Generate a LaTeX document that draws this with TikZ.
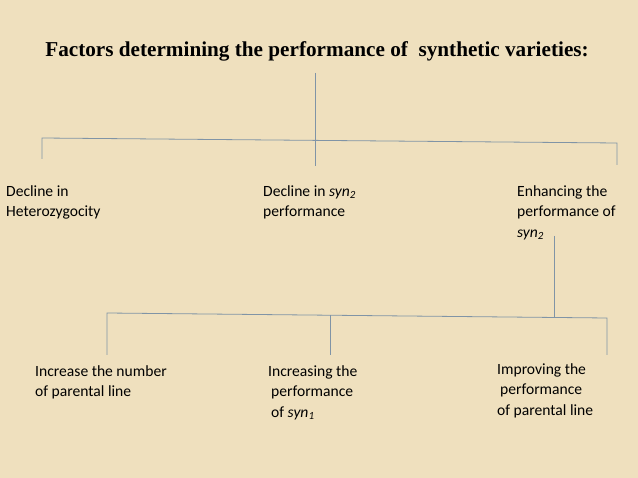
\documentclass[tikz,border=0pt]{standalone}
\usepackage{fontspec}
\setmainfont{Carlito}
\newfontfamily\titlefont{Liberation Serif}
\usepackage{tikz}
\usetikzlibrary{positioning}
\definecolor{paper}{RGB}{239,224,190}
\definecolor{linkline}{RGB}{128,148,166}
\tikzset{
  factor/.style={anchor=north west, align=left, inner sep=0pt,
  font=\fontsize{15.6}{20.5}\selectfont},
  link/.style={draw=linkline, line width=0.8pt},
  heading/.style={inner sep=0pt, font=\titlefont\bfseries\fontsize{21.2}{24}\selectfont}
}
\newcommand{\synsub}[1]{\textit{syn}\textsubscript{\textit{#1}}}

\begin{document}
\begin{tikzpicture}[x=1pt,y=-1pt]
		\fill[paper] (0,0) rectangle (638,478);
		\node[heading] (title) at (317,51) {Factors determining the performance of \ synthetic varieties:};
		% first level
		\node[factor] (hetero) at (6,185) {Decline in\\Heterozygocity};
		\node[factor] (decline) at (263,185) {Decline in \synsub{2}\\performance};
		\node[factor] (enhance) at (517,185) {Enhancing the\\performance of\\\synsub{2}};
		% second level
		\node[factor] (number) at (35,365) {Increase the number\\of parental line};
		\node[factor] (synone) at (268,365) {Increasing the\\\hspace{3pt}performance\\\hspace{3pt}of \synsub{1}};
		\node[factor] (parent) at (497,363) {Improving the\\\hspace{3pt}performance\\of parental line};
		% junctions
		\coordinate (topstem) at (315,73);
		\coordinate (topend) at (315,166);
		\coordinate (barL) at (42,138);
		\coordinate (barR) at (617,143);
		\coordinate (tickL) at (42,159);
		\coordinate (tickR) at (617,165);
		\coordinate (substem) at (554,236);
		\coordinate (subjoin) at (554,317.5);
		\coordinate (subL) at (107,313);
		\coordinate (subM) at (330,315.5);
		\coordinate (subR) at (607,318);
		\coordinate (endL) at (107,355);
		\coordinate (endM) at (330,355);
		\coordinate (endR) at (607,355);
		\draw[link] (topstem) -- (topend);
		\draw[link] (tickL) -- (barL) -- (barR) -- (tickR);
		\draw[link] (substem) -- (subjoin);
		\draw[link] (endL) -- (subL) -- (subR) -- (endR);
		\draw[link] (subM) -- (endM);
\end{tikzpicture}
\end{document}
